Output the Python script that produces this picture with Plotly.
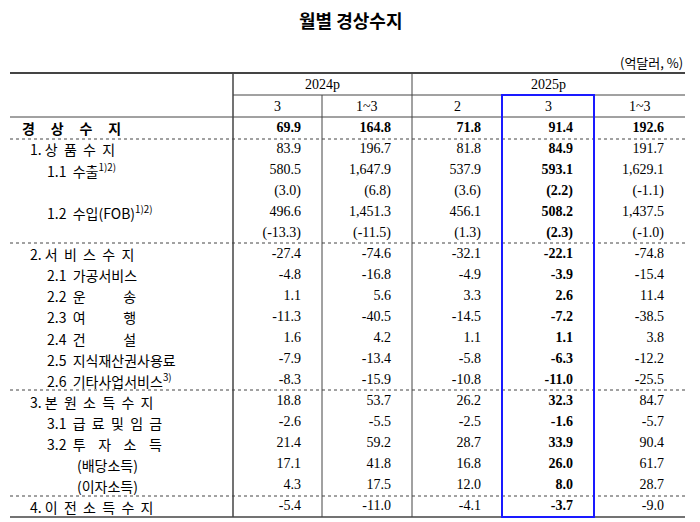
import plotly.graph_objects as go

S = "&nbsp;"
def sp(text, n):
    return (S * n).join(text.split(" "))

# Row labels
labels = [sp("경 상 수 지", 5),
          "1. " + sp("상 품 수 지", 2), "1.1  수출<sup>1)2)</sup>", "",
          "1.2  수입(FOB)<sup>1)2)</sup>", "",
          "2. " + sp("서 비 스 수 지", 2), "2.1  가공서비스", "2.2  운" + S * 12 + "송",
          "2.3  여" + S * 12 + "행", "2.4  건" + S * 12 + "설",
          "2.5  지식재산권사용료", "2.6  기타사업서비스<sup>3)</sup>",
          "3. " + sp("본 원 소 득 수 지", 2), "3.1  " + sp("급 료 및 임 금", 2), "3.2  " + sp("투 자 소 득", 4),
          "(배당소득)", "(이자소득)", "4. " + sp("이 전 소 득 수 지", 2)]
indent = [20, 28, 45, 45, 45, 45, 28, 45, 45, 45, 45, 45, 45, 28, 45, 45, 75, 75, 28]

col_2024_3 = ["69.9", "83.9", "580.5", "(3.0)", "496.6", "(-13.3)", "-27.4", "-4.8", "1.1", "-11.3",
              "1.6", "-7.9", "-8.3", "18.8", "-2.6", "21.4", "17.1", "4.3", "-5.4"]
col_2024_q1 = ["164.8", "196.7", "1,647.9", "(6.8)", "1,451.3", "(-11.5)", "-74.6", "-16.8", "5.6", "-40.5",
               "4.2", "-13.4", "-15.9", "53.7", "-5.5", "59.2", "41.8", "17.5", "-11.0"]
col_2025_2 = ["71.8", "81.8", "537.9", "(3.6)", "456.1", "(1.3)", "-32.1", "-4.9", "3.3", "-14.5",
              "1.1", "-5.8", "-10.8", "26.2", "-2.5", "28.7", "16.8", "12.0", "-4.1"]
col_2025_3 = ["91.4", "84.9", "593.1", "(2.2)", "508.2", "(2.3)", "-22.1", "-3.9", "2.6", "-7.2",
              "1.1", "-6.3", "-11.0", "32.3", "-1.6", "33.9", "26.0", "8.0", "-3.7"]
col_2025_q1 = ["192.6", "191.7", "1,629.1", "(-1.1)", "1,437.5", "(-1.0)", "-74.8", "-15.4", "11.4", "-38.5",
               "3.8", "-12.2", "-25.5", "84.7", "-5.7", "90.4", "61.7", "28.7", "-9.0"]
columns = [col_2024_3, col_2024_q1, col_2025_2, col_2025_3, col_2025_q1]
sub_headers = ["3", "1~3", "2", "3", "1~3"]
year_headers = ["2024p", "2025p"]

edges = [233, 322, 412, 502, 594, 685]
row_y = [128 + 21.05 * i for i in range(len(labels))]
SERIF = "Liberation Serif, Noto Sans CJK KR"
KR = "Noto Sans CJK KR"

fig = go.Figure()
ann = []
for i, t in enumerate(labels):
    if not t:
        continue
    txt = f"<b>{t}</b>" if i == 0 else t
    ann.append(dict(x=indent[i], y=row_y[i], text=txt, xanchor="left", showarrow=False,
                    font=dict(family=KR, size=14, color="black")))
for c, col in enumerate(columns):
    xs = [edges[c + 1] - 21] * len(col)
    texts = [f"<b>{v}</b>" if (c == 3 or i == 0) else v for i, v in enumerate(col)]
    fig.add_trace(go.Scatter(x=xs, y=row_y, mode="text", text=texts, textposition="middle left",
                             textfont=dict(family=SERIF, size=14, color="black"),
                             hoverinfo="skip", showlegend=False))
for c, h in enumerate(sub_headers):
    ann.append(dict(x=(edges[c] + edges[c + 1]) / 2, y=106, text=h, showarrow=False,
                    font=dict(family=SERIF, size=14, color="black")))
ann.append(dict(x=(edges[0] + edges[2]) / 2, y=84, text=year_headers[0], showarrow=False,
                font=dict(family=SERIF, size=14, color="black")))
ann.append(dict(x=(edges[2] + edges[5]) / 2, y=84, text=year_headers[1], showarrow=False,
                font=dict(family=SERIF, size=14, color="black")))
ann.append(dict(x=350, y=20, text="<b>월별 경상수지</b>", showarrow=False,
                font=dict(family=KR, size=18, color="black")))
ann.append(dict(x=685, y=62, text="(억달러, %)", xanchor="right", showarrow=False,
                font=dict(family=KR, size=13, color="black")))

shapes = []
def hline(y, x0=10, x1=685, width=1, dash="solid"):
    shapes.append(dict(type="line", x0=x0, x1=x1, y0=y, y1=y,
                       line=dict(color="#444", width=width, dash=dash)))
def vline(x, y0, y1, width=1):
    shapes.append(dict(type="line", x0=x, x1=x, y0=y0, y1=y1, line=dict(color="#444", width=width)))

hline(73, width=2)
hline(95, x0=233)
hline(117)
hline(139, dash="dot")
hline(243, dash="dot")
hline(390, dash="dot")
hline(496, dash="dot")
hline(517, width=1.5)
vline(233, 73, 517, 1.5)
vline(412, 73, 517)
for x in [322, 502, 594]:
    vline(x, 95, 517)
shapes.append(dict(type="rect", x0=502, x1=594, y0=95, y1=517, line=dict(color="#1a1aff", width=2)))

# page body adds an 8px offset, so shift the visible window by 8
fig.update_layout(
    width=700, height=522, margin=dict(l=0, r=0, t=0, b=0),
    plot_bgcolor="white", paper_bgcolor="white",
    xaxis=dict(range=[8, 708], visible=False, fixedrange=True),
    yaxis=dict(range=[530, 8], visible=False, fixedrange=True),
    annotations=ann, shapes=shapes,
)
fig.write_html("out.html")
